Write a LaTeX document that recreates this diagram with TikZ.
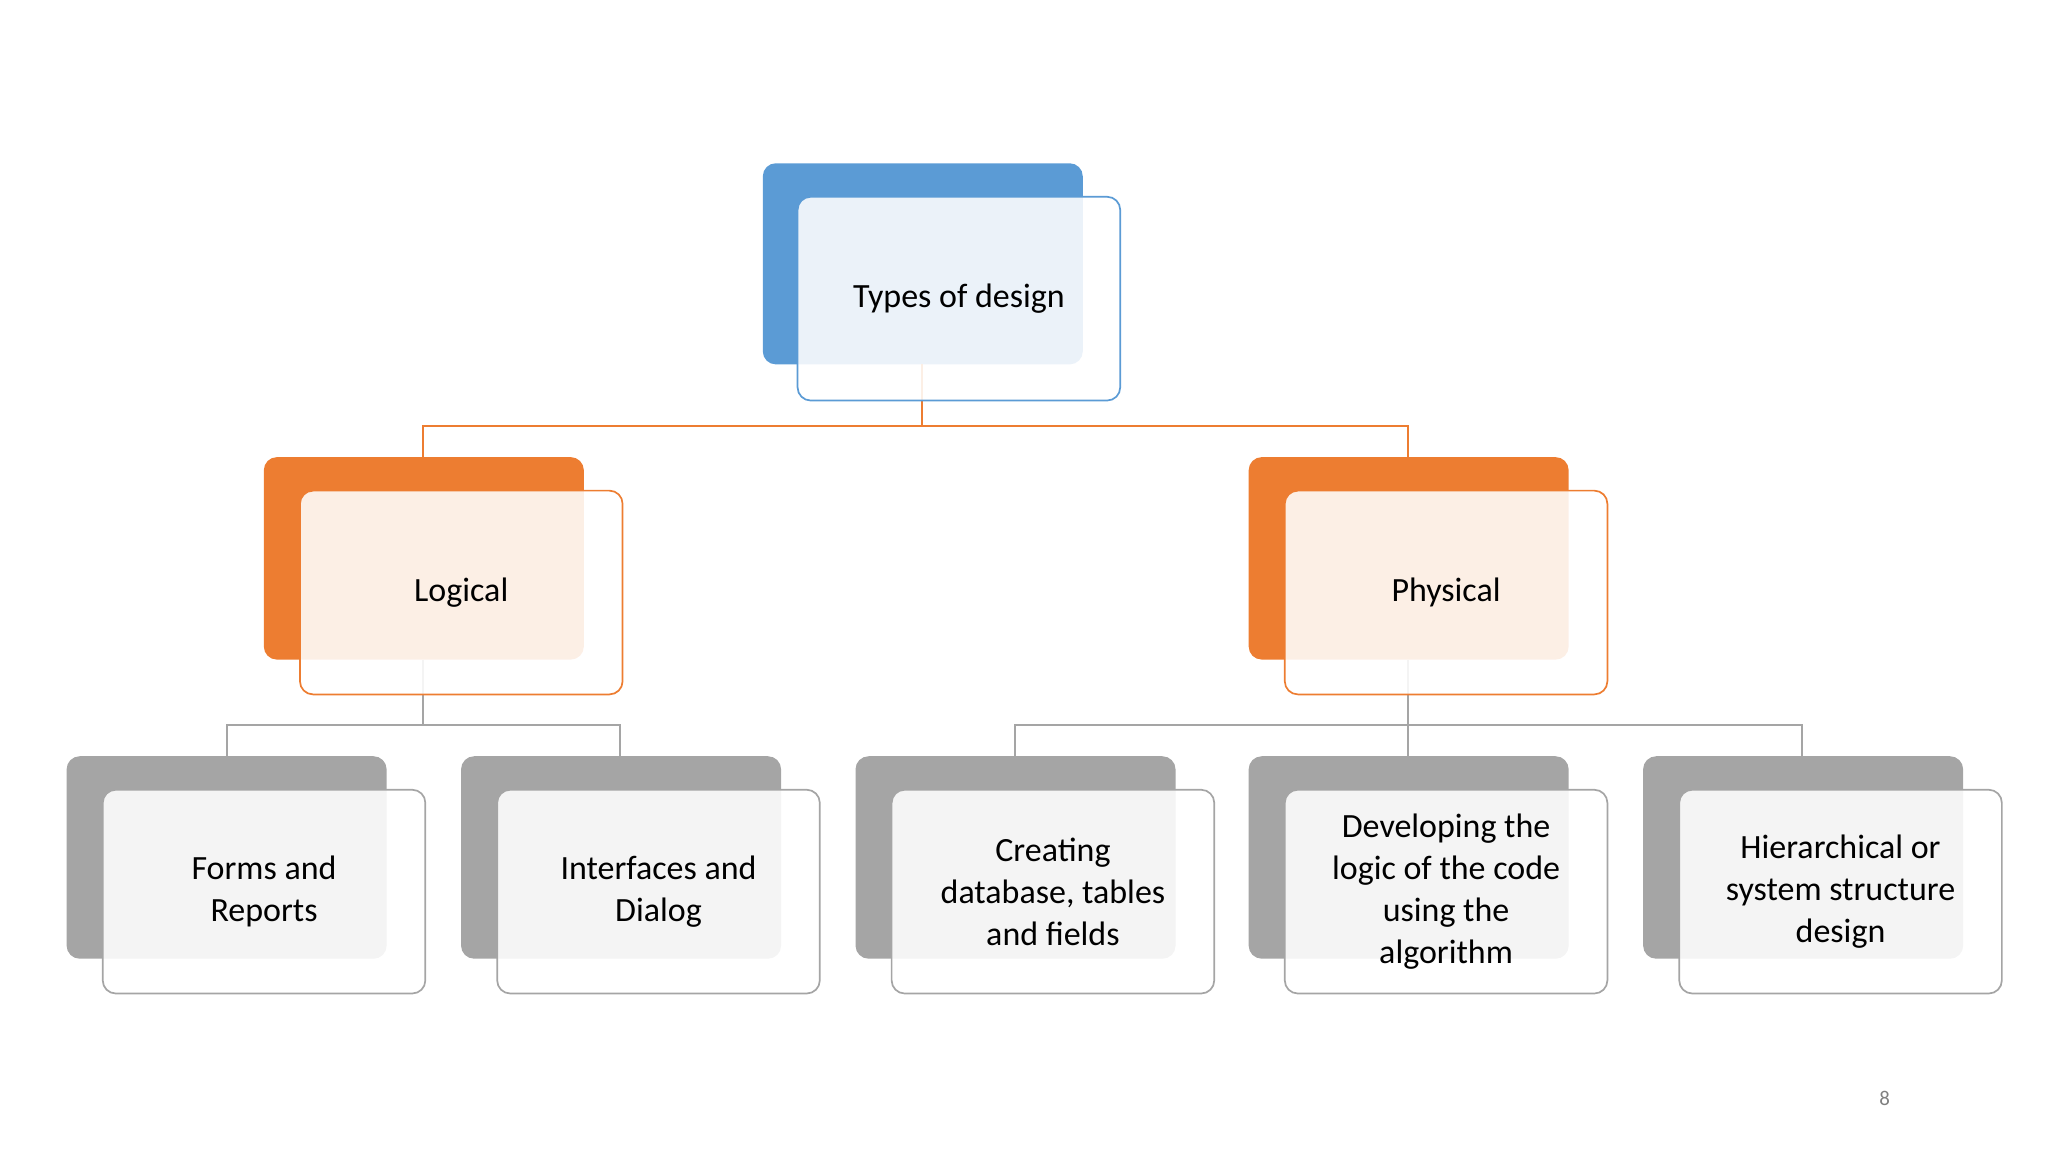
\documentclass[tikz,border=0pt]{standalone}
\usepackage{fontspec}
\setmainfont{Carlito}
\definecolor{cblue}{HTML}{5B9BD5}
\definecolor{corange}{HTML}{ED7D31}
\definecolor{cgray}{HTML}{A5A5A5}
\begin{document}
\begin{tikzpicture}[x=1pt,y=-1pt,
  back/.style={rounded corners=10pt,fill=#1},
  front/.style={rounded corners=10pt,draw=#1,line width=1.3pt,fill=white,fill opacity=0.88,text opacity=1,
     minimum width=247pt,minimum height=156pt,inner sep=0pt,anchor=north west,align=center,
     font=\fontsize{26}{32}\selectfont},
  conn/.style={draw=#1,line width=1.5pt}]
\useasboundingbox (0,0) rectangle (1568,882);
% back boxes
\fill[back=cblue] (584,125) rectangle (829,279);
\fill[back=corange] (202,350) rectangle (447,505);
\fill[back=corange] (956,350) rectangle (1201,505);
\foreach \x in {51,353,655,956,1258} \fill[back=cgray] (\x,579) rectangle ++(245,155);
% connectors
\coordinate (t) at (706,279); \coordinate (tj) at (706,326);
\coordinate (lj) at (324,326); \coordinate (pj) at (1078,326);
\coordinate (lt) at (324,350); \coordinate (pt) at (1078,350);
\draw[conn=corange] (t) -- (tj) (lt) -- (lj) -- (pj) -- (pt);
\coordinate (lb) at (324,505); \coordinate (lbj) at (324,555);
\coordinate (a1) at (174,555); \coordinate (a2) at (475,555);
\coordinate (a1b) at (174,579); \coordinate (a2b) at (475,579);
\draw[conn=cgray] (lb) -- (lbj) (a1b) -- (a1) -- (a2) -- (a2b);
\coordinate (pb) at (1078,505); \coordinate (pbj) at (1078,555);
\coordinate (b1) at (777,555); \coordinate (b3) at (1380,555);
\coordinate (b1b) at (777,579); \coordinate (b2b) at (1078,579); \coordinate (b3b) at (1380,579);
\draw[conn=cgray] (pb) -- (b2b) (b1b) -- (b1) -- (b3) -- (b3b);
% front boxes
\node[front=cblue] (top) at (610,150) {Types of design};
\node[front=corange] (log) at (229,375) {Logical};
\node[front=corange] (phy) at (983,375) {Physical};
\node[front=cgray] (c1) at (78,604) {Forms and\\Reports};
\node[front=cgray] (c2) at (380,604) {Interfaces and\\Dialog};
\node[front=cgray] (c3) at (682,604) {Creating\\database, tables\\and fields};
\node[front=cgray] (c4) at (983,604) {Developing the\\logic of the code\\using the\\algorithm};
\node[front=cgray] (c5) at (1285,604) {Hierarchical or\\system structure\\design};
\node[text=gray,font=\fontsize{16}{18}\selectfont] (pg) at (1443,841) {8};
\end{tikzpicture}
\end{document}
